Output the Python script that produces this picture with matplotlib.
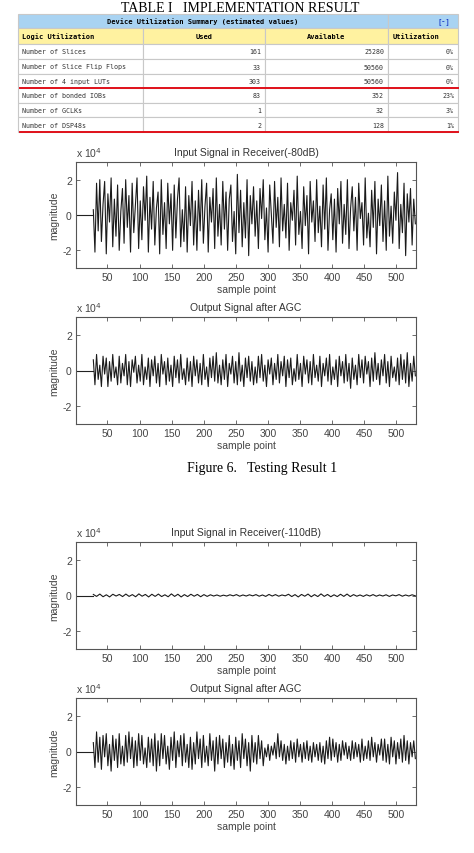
import numpy as np
import matplotlib.pyplot as plt
from matplotlib.patches import Rectangle

plt.rcParams['axes.unicode_minus'] = False

# ---- table data ----
table_title = "TABLE I   IMPLEMENTATION RESULT"
header = "Device Utilization Summary (estimated values)"
col_names = ["Logic Utilization", "Used", "Available", "Utilization"]
row_names = ["Number of Slices", "Number of Slice Flip Flops",
             "Number of 4 input LUTs", "Number of bonded IOBs",
             "Number of GCLKs", "Number of DSP48s"]
used = ["161", "33", "303", "83", "1", "2"]
available = ["25280", "50560", "50560", "352", "32", "128"]
utilization = ["0%", "0%", "0%", "23%", "3%", "1%"]

# ---- signal data (units of 1e4), sampled from sample point 28 to 530 ----
input_80db = [0.3, -2.1, 1.8, -0.9, 2.0, -1.5, 0.6, 1.9, -2.2, 1.2, -0.4, 2.1, -1.8, 0.9, -1.2, 1.7, -2.0, 0.2, 1.5, -1.6,
              2.0, -0.7, 1.1, -2.1, 1.8, -1.0, 0.5, 2.1, -1.9, 0.8, -1.4, 1.6, -0.3, 2.2, -2.1, 1.0, -0.8, 1.9, -1.7, 0.4,
              1.3, -2.2, 2.0, -1.1, 0.7, -1.9, 1.8, -0.5, 1.2, -2.0, 1.7, -1.3, 0.9, 2.1, -1.8, 0.3, -1.5, 1.6, -2.1, 1.1,
              -0.6, 1.9, -1.7, 0.8, -2.0, 1.4, -0.9, 2.0, -1.6, 0.5, 1.8, -2.1, 1.0, -0.4, 1.5, -1.9, 2.1, -1.2, 0.6, -1.7,
              1.9, -0.8, 1.3, -2.0, 0.9, 1.7, -1.5, 0.2, -2.2, 2.3, -1.0, 1.4, -1.8, 0.7, -1.3, 2.0, -2.3, 1.1, -0.5, 1.6,
              -1.2, 0.8, -1.9, 1.5, -0.2, 2.0, -1.4, 0.4, -2.1, 1.7, 0.1, -1.6, 1.9, -0.7, 1.0, -1.8, 2.1, -0.9, 0.6, -1.3,
              1.8, -2.0, 0.7, -0.3, 1.4, -1.7, 2.2, -1.1, 0.2, -1.9, 1.6, -0.6, 1.1, -2.2, 1.9, -0.4, 0.8, -1.5, 2.0, -1.0,
              0.5, -1.8, 1.7, -0.8, 2.1, -2.0, 0.3, 1.2, -1.4, 0.9, -2.1, 1.5, -0.5, 1.9, -1.6, 0.6, -1.1, 2.0, -1.9, 0.4,
              1.6, -0.9, 1.0, -2.0, 1.8, -0.2, 0.7, -1.7, 2.1, -1.3, 0.1, -1.8, 1.4, -0.7, 1.9, -2.2, 0.9, -0.6, 1.7, -1.5,
              0.8, -2.0, 2.2, -1.2, 0.5, -1.6, 1.3, -0.3, 2.4, -1.9, 0.6, -1.0, 1.8, -2.3, 1.2, -0.4, 1.5, -1.7, 0.9, -0.5]
output_1 = [0.6, -0.8, 0.9, -0.5, 0.3, -0.9, 0.8, -0.2, 0.7, -0.9, 0.5, -0.6, 0.9, -0.4, 0.2, -0.8, 0.8, -0.7, 0.4, -0.3,
            0.9, -0.8, 0.5, -0.9, 0.6, -0.1, 0.8, -0.7, 0.3, -0.6, 0.9, -0.8, 0.2, -0.5, 0.7, -0.9, 0.6, -0.3, 0.8, -0.7,
            0.4, -0.9, 0.9, -0.2, 0.5, -0.8, 0.7, -0.6, 0.3, -0.9, 0.8, -0.4, 0.6, -0.7, 0.9, -0.5, 0.1, -0.8, 0.7, -0.6,
            0.5, -0.9, 0.8, -0.3, 0.6, -0.7, 0.4, -0.8, 0.9, -0.5, 0.2, -0.9, 0.7, -0.4, 0.8, -0.6, 1.0, -0.7, 0.3, -0.8,
            0.6, -0.5, 0.9, -0.9, 0.4, -0.2, 0.8, -0.7, 0.5, -0.8, 1.0, -0.6, 0.3, -0.9, 0.7, -0.4, 0.8, -0.6, 0.5, -0.8,
            0.2, -0.7, 0.8, -0.4, 0.9, -0.6, 0.3, -0.9, 0.6, -0.2, 0.7, -0.8, 0.4, -0.5, 0.9, -0.7, 0.5, -0.3, 0.8, -0.9,
            0.6, -0.4, 0.7, -0.8, 0.1, -0.6, 0.9, -0.5, 0.4, -0.9, 0.8, -0.2, 0.6, -0.7, 0.5, -0.8, 0.9, -0.4, 0.3, -0.6,
            0.8, -0.9, 0.4, -0.3, 0.7, -0.6, 0.9, -0.8, 0.2, -0.5, 0.6, -0.9, 0.8, -0.3, 0.5, -0.7, 0.9, -0.6, 0.4, -1.0,
            0.7, -0.5, 0.3, -0.8, 0.9, -0.4, 0.6, -0.7, 0.8, -0.2, 0.5, -0.9, 0.7, -0.6, 1.0, -0.5, 0.4, -0.8, 0.6, -0.3,
            0.9, -0.7, 0.5, -0.9, 0.8, -0.4, 0.2, -0.6, 0.7, -0.8, 0.9, -0.5, 0.6, -0.7, 1.0, -0.9, 0.4, -0.6, 0.8, -0.3]
input_110db = [0.06, -0.05, 0.08, -0.07, 0.04, -0.08, 0.07, -0.03, 0.06, -0.06, 0.08, -0.05, 0.05, -0.07, 0.09, -0.04, 0.06, -0.08, 0.07, -0.05,
               0.08, -0.06, 0.04, -0.07, 0.09, -0.05, 0.07, -0.08, 0.05, -0.06, 0.07, -0.04, 0.06, -0.07, 0.05, -0.05, 0.04, -0.03, 0.03, -0.04,
               0.02, -0.03, 0.04, -0.02, 0.05, -0.04, 0.03, -0.03, 0.04, -0.02, 0.05, -0.04, 0.03, -0.05, 0.06, -0.03, 0.05, -0.04, 0.03, -0.02,
               0.07, -0.06, 0.05, -0.08, 0.06, -0.04, 0.08, -0.07, 0.05, -0.06, 0.09, -0.05, 0.06, -0.07, 0.04, -0.06, 0.07, -0.05, 0.08, -0.06,
               0.05, -0.04, 0.03, -0.05, 0.04, -0.03, 0.05, -0.04, 0.03, -0.03, 0.04, -0.05, 0.03, -0.02, 0.05, -0.04, 0.03, -0.03, 0.04, -0.02]
output_2 = [0.5, -0.9, 1.1, -0.6, 0.8, -1.0, 0.9, -0.3, 1.0, -0.8, 0.4, -1.1, 0.9, -0.5, 0.7, -0.9, 1.0, -0.7, 0.3, -0.8,
            0.9, -0.6, 1.1, -0.4, 0.8, -0.9, 0.6, -0.8, 1.0, -0.5, 0.9, -0.7, 0.2, -0.9, 0.8, -0.6, 0.7, -0.8, 1.0, -1.1,
            0.6, -0.8, 1.0, -0.4, 0.9, -0.7, 0.3, -1.0, 0.8, -0.5, 1.1, -0.9, 0.6, -0.3, 0.9, -0.8, 1.0, -0.6, 0.4, -0.9,
            0.8, -1.0, 0.5, -0.7, 1.1, -0.4, 0.7, -0.9, 0.9, -0.6, 0.3, -0.8, 1.0, -0.5, 0.6, -1.1, 0.8, -0.7, 0.9, -0.4,
            0.7, -0.9, 0.5, -0.6, 0.9, -0.8, 0.4, -1.0, 0.8, -0.5, 0.6, -0.9, 1.0, -0.4, 0.7, -0.8, 0.5, -1.1, 0.9, -0.6,
            0.5, -0.7, 0.9, -0.4, 0.6, -0.8, 0.2, -0.3, 0.4, -0.5, 0.3, -0.2, 0.5, -0.4, 1.0, -0.3, 0.6, -0.5, 0.4, -0.7,
            0.3, -0.5, 0.6, -0.4, 0.5, -0.6, 0.7, -0.3, 0.4, -0.6, 0.5, -0.4, 0.6, -0.5, 0.3, -0.6, 0.5, -0.3, 0.4, -0.5,
            0.5, -0.6, 0.3, -0.7, 0.6, -0.4, 0.8, -0.5, 0.7, -0.3, 0.5, -0.6, 0.4, -0.5, 0.6, -0.2, 0.5, -0.4, 0.3, -0.5,
            0.6, -0.4, 0.5, -0.3, 0.4, -0.6, 0.7, -0.5, 0.3, -0.4, 0.6, -0.5, 0.8, -0.3, 0.5, -0.6, 0.4, -0.2, 0.7, -0.5,
            0.7, -0.6, 0.4, -0.7, 0.8, -0.3, 0.6, -0.7, 0.5, -0.4, 0.7, -0.6, 0.9, -0.5, 0.6, -0.7, 0.5, -0.3, 0.6, -0.4]

W, H = 474, 854
fig = plt.figure(figsize=(W / 100, H / 100), dpi=100)
bg = fig.add_axes([0, 0, 1, 1])
bg.set_xlim(0, W)
bg.set_ylim(H, 0)
bg.axis('off')

# ---- table ----
serif = 'Liberation Serif'
mono = 'DejaVu Sans Mono'
bg.text(240, 9, table_title, ha='center', va='center', family=serif, fontsize=10)
cols = [18, 143, 265, 388, 458]
rows = [15, 29, 45, 60, 75, 89, 104, 118, 133]
grid = '#c8c8c8'
bg.add_patch(Rectangle((cols[0], rows[0]), cols[3] - cols[0], rows[1] - rows[0],
                       fc='#a9d3f2', ec=grid, lw=0.8))
bg.add_patch(Rectangle((cols[3], rows[0]), cols[4] - cols[3], rows[1] - rows[0],
                       fc='#a9d3f2', ec=grid, lw=0.8))
bg.text((cols[0] + cols[3]) / 2, 22, header, ha='center', va='center',
        family=mono, fontsize=5, weight='bold')
bg.text(450, 22, "[-]", ha='right', va='center', family=mono, fontsize=5,
        weight='bold', color='#1a3cc8')
for j in range(4):
    bg.add_patch(Rectangle((cols[j], rows[1]), cols[j + 1] - cols[j], rows[2] - rows[1],
                           fc='#fff2a0', ec=grid, lw=0.8))
bg.text(22, 37, col_names[0], ha='left', va='center', family=mono, fontsize=5, weight='bold')
for j in (1, 2):
    bg.text((cols[j] + cols[j + 1]) / 2, 37, col_names[j], ha='center', va='center',
            family=mono, fontsize=5, weight='bold')
bg.text(cols[3] + 5, 37, col_names[3], ha='left', va='center', family=mono, fontsize=5, weight='bold')
for i, name in enumerate(row_names):
    y0, y1 = rows[i + 2], rows[i + 3]
    for j in range(4):
        bg.add_patch(Rectangle((cols[j], y0), cols[j + 1] - cols[j], y1 - y0,
                               fc='white', ec=grid, lw=0.8))
    yc = (y0 + y1) / 2
    bg.text(22, yc, name, ha='left', va='center', family=mono, fontsize=4.8, color='#333')
    bg.text(cols[2] - 4, yc, used[i], ha='right', va='center', family=mono, fontsize=4.8, color='#333')
    bg.text(cols[3] - 4, yc, available[i], ha='right', va='center', family=mono, fontsize=4.8, color='#333')
    bg.text(cols[4] - 4, yc, utilization[i], ha='right', va='center', family=mono, fontsize=4.8, color='#333')
bg.plot([20, 458], [89, 89], color='#e0101a', lw=1.4)
bg.plot([20, 458], [133, 133], color='#e0101a', lw=1.4)

bg.text(262, 469, "Figure 6.   Testing Result 1", ha='center', va='center',
        family=serif, fontsize=10)

# ---- signal panels ----
panels = [
    (163, 269, input_80db, "Input Signal in Receiver(-80dB)"),
    (318, 425, output_1, "Output Signal after AGC"),
    (543, 650, input_110db, "Input Signal in Receiver(-110dB)"),
    (699, 806, output_2, "Output Signal after AGC"),
]
sans = 'Liberation Sans'
for top, bot, vals, title in panels:
    ax = fig.add_axes([76 / W, 1 - bot / H, 340 / W, (bot - top) / H])
    x = np.linspace(28, 530, len(vals))
    ax.plot([1, 28], [0, 0], color='#222', lw=0.8)
    ax.plot(x, vals, color='#1a1a1a', lw=0.8)
    ax.set_xlim(1, 531)
    ax.set_ylim(-3, 3)
    ax.set_xticks(range(50, 501, 50))
    ax.set_yticks([-2, 0, 2])
    ax.tick_params(direction='in', top=True, right=True, length=3, width=0.6,
                   labelsize=7.5, labelcolor='#444', color='#555', pad=3)
    for lab in ax.get_xticklabels() + ax.get_yticklabels():
        lab.set_family(sans)
    for s in ax.spines.values():
        s.set_color('#555')
        s.set_linewidth(0.8)
    ax.set_xlabel("sample point", family=sans, fontsize=7.5, color='#444', labelpad=1)
    ax.set_ylabel("magnitude", family=sans, fontsize=7.5, color='#444', labelpad=2)
    ax.set_title(title, family=sans, fontsize=7.5, color='#333', pad=5)
    ax.text(0.0, 1.03, r"x 10$^4$", transform=ax.transAxes, family=sans,
            fontsize=7.5, color='#444', ha='left', va='bottom')

fig.savefig('out.png', dpi=100)
